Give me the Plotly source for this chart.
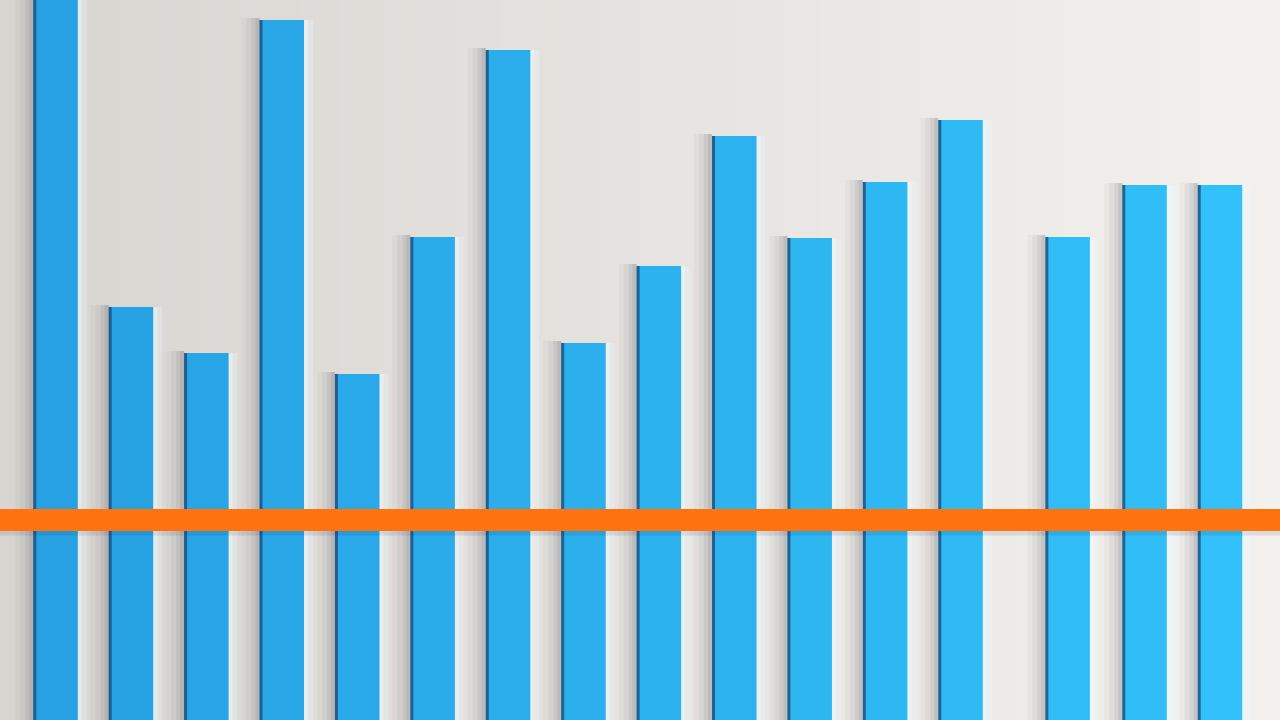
import plotly.graph_objects as go

# ---- data ----
positions = [0, 1, 2, 3, 4, 5, 6, 7, 8, 9, 10, 11, 12, 13.42, 14.44, 15.44]
values = [740, 413, 367, 700, 346, 483, 670, 377, 454, 584, 482, 538, 600, 483, 535, 535]
reference_level = 200

# ---- style ----
BAR_W = 0.59
PX = 75.42
X_RANGE = [-0.736, 16.236]
Y_RANGE = [0, 720]


def lerp_color(c1, c2, t):
    return "rgb(%d,%d,%d)" % tuple(round(a + (b - a) * t) for a, b in zip(c1, c2))


bar_colors = [lerp_color((38, 160, 226), (50, 194, 250), (p - X_RANGE[0]) / (X_RANGE[1] - X_RANGE[0]))
              for p in positions]

fig = go.Figure()

# soft shadows to the left of each bar
for w_px, alpha in [(18, 0.035), (13, 0.05), (8, 0.07), (4, 0.09)]:
    w = w_px / PX
    fig.add_trace(go.Bar(
        x=positions, y=[v + 2 for v in values], width=w, offset=-BAR_W / 2 - w,
        marker=dict(color="rgba(50,50,70,%.3f)" % alpha, line=dict(width=0)),
        hoverinfo="skip", showlegend=False))

# light glow to the right
for w_px, alpha in [(9, 0.3), (4, 0.45)]:
    w = w_px / PX
    fig.add_trace(go.Bar(
        x=positions, y=values, width=w, offset=BAR_W / 2,
        marker=dict(color="rgba(235,248,255,%.2f)" % alpha, line=dict(width=0)),
        hoverinfo="skip", showlegend=False))

# main bars
fig.add_trace(go.Bar(
    x=positions, y=values, width=BAR_W,
    marker=dict(color=bar_colors, line=dict(width=0)),
    showlegend=False))

# dark left bevel edge
edge_w = 3 / PX
fig.add_trace(go.Bar(
    x=positions, y=values, width=edge_w, offset=-BAR_W / 2,
    marker=dict(color="rgba(30,70,115,0.75)", line=dict(width=0)),
    hoverinfo="skip", showlegend=False))

# background gradient strips
shapes = []
N = 64
for i in range(N):
    t = i / (N - 1)
    shapes.append(dict(type="rect", xref="paper", yref="paper",
                       x0=i / N, x1=(i + 1) / N + 0.002, y0=0, y1=1,
                       fillcolor=lerp_color((216, 213, 209), (243, 241, 238), t),
                       line=dict(width=0), layer="below"))

# shadow under the orange line
shapes.append(dict(type="line", xref="paper", yref="y", x0=0, x1=1,
                   y0=reference_level - 13, y1=reference_level - 13,
                   line=dict(color="rgba(20,40,80,0.10)", width=5)))
# orange reference line
shapes.append(dict(type="line", xref="paper", yref="y", x0=0, x1=1,
                   y0=reference_level, y1=reference_level,
                   line=dict(color="#ff7210", width=22)))

fig.update_layout(
    width=1280, height=720,
    margin=dict(l=0, r=0, t=0, b=0),
    barmode="overlay",
    paper_bgcolor="#e6e4e1",
    plot_bgcolor="rgba(0,0,0,0)",
    shapes=shapes,
    xaxis=dict(range=X_RANGE, visible=False, fixedrange=True),
    yaxis=dict(range=Y_RANGE, visible=False, fixedrange=True),
    showlegend=False,
)

fig.write_html("out.html", config={"displayModeBar": False},
               post_script="document.body.style.margin='0';document.body.style.padding='0';"
                           "document.body.style.overflow='hidden';")
